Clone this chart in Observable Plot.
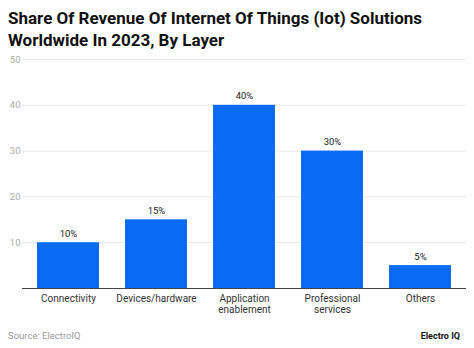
<!DOCTYPE html>
<html><head><meta charset="utf-8">
<script src="https://cdn.jsdelivr.net/npm/d3@7"></script>
<script src="https://cdn.jsdelivr.net/npm/@observablehq/plot@0.6"></script>
<style>
body{margin:0;background:#fff;font-family:Roboto,"Noto Sans",sans-serif;width:474px;height:348px;overflow:hidden;position:relative}
#title{position:absolute;left:8px;top:7px;font-size:17px;font-weight:700;line-height:22px;color:#111}
#chart{position:absolute;left:0;top:50px}
#src{position:absolute;left:8px;top:330px;font-size:9.5px;color:#999}
#logo{position:absolute;right:14px;top:331px;font-size:9px;font-weight:700;color:#111}
</style></head><body>
<div id="title">Share Of Revenue Of Internet Of Things (Iot) Solutions<br>Worldwide In 2023, By Layer</div>
<div id="chart"></div>
<div id="src">Source: ElectroIQ</div>
<div id="logo">Electro IQ</div>
<script>
const categories = ["Connectivity","Devices/hardware","Application\nenablement","Professional\nservices","Others"];
const values = [10,15,40,30,5];
const yTicks = [10,20,30,40,50];
const data = categories.map((c,i)=>({layer:c, share:values[i]}));
const plot = Plot.plot({
  width:474, height:272,
  marginLeft:22, marginRight:8, marginTop:9, marginBottom:34,
  style:{fontFamily:"Roboto, sans-serif", background:"transparent"},
  x:{domain:categories, paddingInner:0.3, paddingOuter:0.15, label:null, tickSize:0, tickPadding:8},
  y:{domain:[0,50], ticks:yTicks, label:null},
  marks:[
    Plot.ruleY(yTicks,{stroke:"#e8e8e8"}),
    Plot.axisY({ticks:yTicks, tickSize:0, tickPadding:2, textAnchor:"end", fill:"#aaa", fontSize:9.5, label:null}),
    Plot.axisX({tickSize:0, tickPadding:6, fill:"#333", fontSize:10, label:null, lineHeight:1.1}),
    Plot.barY(data,{x:"layer", y:"share", fill:"#0a6cf4"}),
    Plot.ruleY([0],{stroke:"#444"}),
    Plot.text(data,{x:"layer", y:"share", text:d=>d.share+"%", dy:-9, fontSize:9.5, fill:"#222"})
  ]
});
document.getElementById("chart").appendChild(plot);
</script>
</body></html>
